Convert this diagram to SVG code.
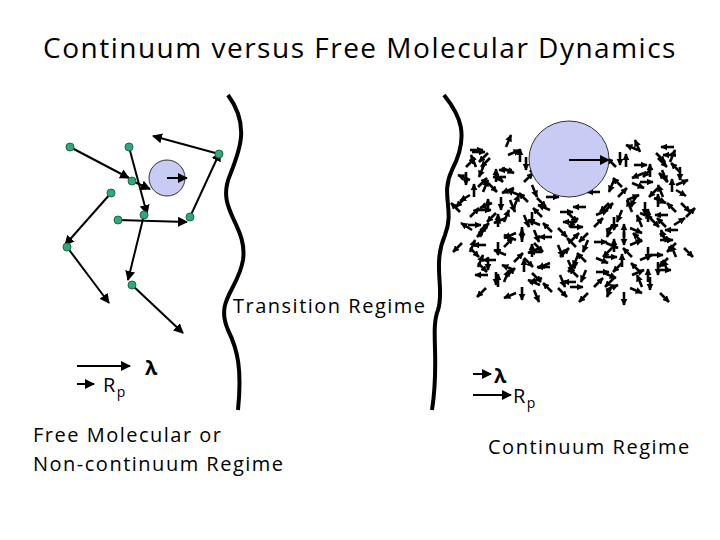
<svg xmlns="http://www.w3.org/2000/svg" width="720" height="540" viewBox="0 0 720 540">
<defs>
<marker id="ah" viewBox="0 0 10 10" refX="9" refY="5" markerWidth="5" markerHeight="5" orient="auto" markerUnits="strokeWidth"><path d="M0,0 L10,5 L0,10 z" fill="#000"/></marker>
<marker id="sh" viewBox="0 0 10 10" refX="9" refY="5" markerWidth="2.7" markerHeight="2.7" orient="auto" markerUnits="strokeWidth"><path d="M0,0 L10,5 L0,10 z" fill="#000"/></marker>
<style>
text{font-family:"Open Sans","DejaVu Sans",sans-serif;fill:#000;letter-spacing:1.5px}
.a{stroke:#000;stroke-width:2;fill:none;marker-end:url(#ah)}
.s{stroke:#000;stroke-width:2.6;fill:none;marker-end:url(#sh)}
.dot{fill:#2eaa7a;stroke:#1a6a4a;stroke-width:1}
.wall{stroke:#000;stroke-width:4;fill:none}
.part{fill:#c8ccf4;stroke:#333;stroke-width:1}
</style>
</defs>
<rect width="720" height="540" fill="#fff"/>
<text x="360" y="58" font-size="28" text-anchor="middle">Continuum versus Free Molecular Dynamics</text>
<g id="walls">
<path class="wall" d="M228,95 C250,125 240,150 230,175 C215,210 248,225 243,260 C238,290 215,300 228,330 C238,350 242,370 238,410"/>
<path class="wall" d="M444,95 C460,115 470,135 452,170 C440,195 455,210 445,235 C432,265 445,290 438,310 C430,330 440,360 432,410"/>
</g>
<g id="left-particle"><circle class="part" cx="167" cy="178" r="18"/></g>
<g id="cluster">
<g id="cl">
<line class="s" x1="470" y1="150" x2="483" y2="150"/><line class="s" x1="488" y1="153" x2="479" y2="162"/><line class="s" x1="506" y1="147" x2="511" y2="135"/><line class="s" x1="620" y1="152" x2="620" y2="165"/><line class="s" x1="638" y1="150" x2="626" y2="145"/><line class="s" x1="656" y1="153" x2="665" y2="162"/><line class="s" x1="674" y1="147" x2="661" y2="147"/>
<line class="s" x1="466" y1="167" x2="475" y2="158"/><line class="s" x1="484" y1="165" x2="479" y2="177"/><line class="s" x1="502" y1="168" x2="514" y2="173"/><line class="s" x1="520" y1="162" x2="520" y2="149"/><line class="s" x1="616" y1="167" x2="607" y2="158"/><line class="s" x1="634" y1="165" x2="647" y2="165"/><line class="s" x1="652" y1="168" x2="643" y2="177"/><line class="s" x1="670" y1="162" x2="675" y2="150"/><line class="s" x1="680" y1="167" x2="680" y2="180"/>
<line class="s" x1="470" y1="180" x2="458" y2="175"/><line class="s" x1="488" y1="183" x2="497" y2="192"/><line class="s" x1="506" y1="177" x2="493" y2="177"/><line class="s" x1="524" y1="182" x2="533" y2="173"/><line class="s" x1="614" y1="180" x2="609" y2="192"/><line class="s" x1="632" y1="183" x2="644" y2="188"/><line class="s" x1="650" y1="177" x2="650" y2="164"/><line class="s" x1="668" y1="182" x2="659" y2="173"/><line class="s" x1="676" y1="190" x2="686" y2="196"/>
<line class="s" x1="465" y1="198" x2="456" y2="207"/><line class="s" x1="483" y1="192" x2="488" y2="180"/><line class="s" x1="501" y1="197" x2="501" y2="210"/><line class="s" x1="519" y1="195" x2="507" y2="190"/><line class="s" x1="537" y1="198" x2="546" y2="207"/><line class="s" x1="600" y1="192" x2="587" y2="192"/><line class="s" x1="618" y1="197" x2="627" y2="188"/><line class="s" x1="636" y1="195" x2="631" y2="207"/><line class="s" x1="654" y1="198" x2="666" y2="203"/><line class="s" x1="672" y1="192" x2="672" y2="179"/>
<line class="s" x1="460" y1="212" x2="451" y2="203"/><line class="s" x1="478" y1="210" x2="491" y2="210"/><line class="s" x1="496" y1="213" x2="487" y2="222"/><line class="s" x1="514" y1="207" x2="519" y2="195"/><line class="s" x1="532" y1="212" x2="532" y2="225"/><line class="s" x1="550" y1="210" x2="538" y2="205"/><line class="s" x1="568" y1="213" x2="577" y2="222"/><line class="s" x1="586" y1="207" x2="573" y2="207"/><line class="s" x1="604" y1="212" x2="613" y2="203"/><line class="s" x1="622" y1="210" x2="617" y2="222"/><line class="s" x1="640" y1="213" x2="652" y2="218"/><line class="s" x1="658" y1="207" x2="658" y2="194"/><line class="s" x1="676" y1="212" x2="667" y2="203"/>
<line class="s" x1="468" y1="225" x2="481" y2="225"/><line class="s" x1="486" y1="228" x2="477" y2="237"/><line class="s" x1="504" y1="222" x2="509" y2="210"/><line class="s" x1="522" y1="227" x2="522" y2="240"/><line class="s" x1="540" y1="225" x2="528" y2="220"/><line class="s" x1="558" y1="228" x2="567" y2="237"/><line class="s" x1="576" y1="222" x2="563" y2="222"/><line class="s" x1="594" y1="227" x2="603" y2="218"/><line class="s" x1="612" y1="225" x2="607" y2="237"/><line class="s" x1="630" y1="228" x2="642" y2="233"/><line class="s" x1="648" y1="222" x2="648" y2="209"/><line class="s" x1="666" y1="227" x2="657" y2="218"/><line class="s" x1="674" y1="225" x2="685" y2="218"/>
<line class="s" x1="462" y1="243" x2="453" y2="252"/><line class="s" x1="480" y1="237" x2="485" y2="225"/><line class="s" x1="498" y1="242" x2="498" y2="255"/><line class="s" x1="516" y1="240" x2="504" y2="235"/><line class="s" x1="534" y1="243" x2="543" y2="252"/><line class="s" x1="552" y1="237" x2="539" y2="237"/><line class="s" x1="570" y1="242" x2="579" y2="233"/><line class="s" x1="588" y1="240" x2="583" y2="252"/><line class="s" x1="606" y1="243" x2="618" y2="248"/><line class="s" x1="624" y1="237" x2="624" y2="224"/><line class="s" x1="642" y1="242" x2="633" y2="233"/><line class="s" x1="660" y1="240" x2="673" y2="240"/><line class="s" x1="676" y1="243" x2="667" y2="252"/>
<line class="s" x1="470" y1="252" x2="475" y2="240"/><line class="s" x1="488" y1="257" x2="488" y2="270"/><line class="s" x1="506" y1="255" x2="494" y2="250"/><line class="s" x1="524" y1="258" x2="533" y2="267"/><line class="s" x1="542" y1="252" x2="529" y2="252"/><line class="s" x1="560" y1="257" x2="569" y2="248"/><line class="s" x1="578" y1="255" x2="573" y2="267"/><line class="s" x1="596" y1="258" x2="608" y2="263"/><line class="s" x1="614" y1="252" x2="614" y2="239"/><line class="s" x1="632" y1="257" x2="623" y2="248"/><line class="s" x1="650" y1="255" x2="663" y2="255"/><line class="s" x1="668" y1="258" x2="659" y2="267"/>
<line class="s" x1="478" y1="267" x2="483" y2="255"/><line class="s" x1="496" y1="272" x2="496" y2="285"/><line class="s" x1="514" y1="270" x2="502" y2="265"/><line class="s" x1="532" y1="273" x2="541" y2="282"/><line class="s" x1="550" y1="267" x2="537" y2="267"/><line class="s" x1="568" y1="272" x2="577" y2="263"/><line class="s" x1="586" y1="270" x2="581" y2="282"/><line class="s" x1="604" y1="273" x2="616" y2="278"/><line class="s" x1="622" y1="267" x2="622" y2="254"/><line class="s" x1="640" y1="272" x2="631" y2="263"/><line class="s" x1="658" y1="270" x2="671" y2="270"/>
<line class="s" x1="486" y1="288" x2="477" y2="297"/><line class="s" x1="504" y1="282" x2="509" y2="270"/><line class="s" x1="522" y1="287" x2="522" y2="300"/><line class="s" x1="540" y1="285" x2="528" y2="280"/><line class="s" x1="558" y1="288" x2="567" y2="297"/><line class="s" x1="576" y1="282" x2="563" y2="282"/><line class="s" x1="594" y1="287" x2="603" y2="278"/><line class="s" x1="612" y1="285" x2="607" y2="297"/><line class="s" x1="630" y1="288" x2="642" y2="293"/><line class="s" x1="648" y1="282" x2="648" y2="269"/>
</g>
<use href="#cl" transform="translate(1146,5) scale(-1,1)"/>
</g>
<g id="right-particle"><ellipse class="part" cx="569" cy="159" rx="40" ry="38"/></g>
<g id="connectors">
<line class="a" x1="167" y1="178" x2="187" y2="178"/>
<line class="a" x1="70" y1="147" x2="129" y2="178"/>
<line class="a" x1="132" y1="181" x2="150" y2="189"/>
<line class="a" x1="129" y1="147" x2="147" y2="214"/>
<line class="a" x1="219" y1="154" x2="153" y2="136"/>
<line class="a" x1="190" y1="217" x2="220" y2="152"/>
<line class="a" x1="118" y1="220" x2="187" y2="222"/>
<line class="a" x1="144" y1="215" x2="128" y2="280"/>
<line class="a" x1="111" y1="193" x2="65" y2="245"/>
<line class="a" x1="67" y1="247" x2="109" y2="303"/>
<line class="a" x1="132" y1="285" x2="183" y2="333"/>
<line class="a" x1="569" y1="160" x2="609" y2="160"/>
<line class="a" x1="77" y1="366" x2="130" y2="366"/>
<line class="a" x1="77" y1="384" x2="94" y2="384"/>
<line class="a" x1="473" y1="374" x2="491" y2="374"/>
<line class="a" x1="473" y1="395" x2="511" y2="395"/>
</g>
<g id="dots">
<circle class="dot" cx="70" cy="147" r="4"/><circle class="dot" cx="132" cy="181" r="4"/><circle class="dot" cx="129" cy="147" r="4"/><circle class="dot" cx="219" cy="154" r="4"/><circle class="dot" cx="190" cy="217" r="4"/><circle class="dot" cx="118" cy="220" r="4"/><circle class="dot" cx="144" cy="215" r="4"/><circle class="dot" cx="111" cy="193" r="4"/><circle class="dot" cx="67" cy="247" r="4"/><circle class="dot" cx="132" cy="285" r="4"/>
</g>
<g id="labels">
<text x="233" y="313" font-size="20">Transition Regime</text>
<text x="145" y="375" font-size="20" font-family="Liberation Serif,serif" font-weight="bold">λ</text>
<text x="103" y="392" font-size="20">R<tspan font-size="14" dy="5">p</tspan></text>
<text x="494" y="383" font-size="20" font-family="Liberation Serif,serif" font-weight="bold">λ</text>
<text x="513" y="403" font-size="20">R<tspan font-size="14" dy="5">p</tspan></text>
<text x="33" y="442" font-size="20">Free Molecular or</text>
<text x="33" y="471" font-size="20">Non-continuum Regime</text>
<text x="488" y="454" font-size="20">Continuum Regime</text>
</g>
</svg>
